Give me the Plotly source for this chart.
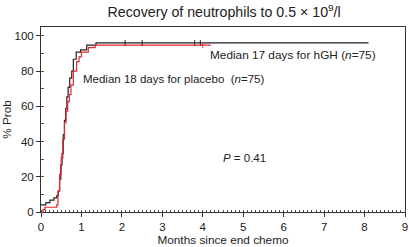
import plotly.graph_objects as go

# hGH (black) Kaplan-Meier steps: months, % recovered
hgh_t = [0, 0.12, 0.22, 0.32, 0.39, 0.43, 0.46, 0.49, 0.52, 0.55, 0.58, 0.61, 0.64, 0.67, 0.71, 0.76, 0.80, 0.87, 0.98, 1.13, 1.36, 8.1]
hgh_p = [4.0, 5.3, 6.7, 8.0, 9.3, 12.0, 18.7, 26.7, 33.3, 44.0, 52.0, 58.7, 65.3, 70.7, 76.0, 80.0, 86.7, 90.7, 92.0, 94.7, 96.0, 96.0]

# placebo (red)
pl_t = [0, 0.05, 0.10, 0.39, 0.42, 0.46, 0.50, 0.54, 0.58, 0.62, 0.66, 0.70, 0.74, 0.80, 0.88, 0.94, 1.00, 1.17, 1.34, 4.2]
pl_p = [0.0, 1.3, 2.7, 4.0, 12.0, 21.3, 30.7, 41.3, 50.7, 57.3, 62.7, 66.7, 72.0, 80.0, 85.3, 88.0, 90.7, 93.3, 94.7, 94.7]

# censoring marks
cens_hgh_t = [2.08, 2.5, 3.8, 3.94]
cens_hgh_p = [96.0, 96.0, 96.0, 96.0]
cens_pl_t = [4.0]
cens_pl_p = [94.7]

BLACK = "#222222"
RED = "#e8262b"

fig = go.Figure()
fig.add_trace(go.Scatter(x=hgh_t, y=hgh_p, mode="lines", line=dict(color=BLACK, width=1.2, shape="hv"), showlegend=False))
fig.add_trace(go.Scatter(x=pl_t, y=pl_p, mode="lines", line=dict(color=RED, width=1.2, shape="hv"), showlegend=False))
fig.add_trace(go.Scatter(x=cens_hgh_t, y=cens_hgh_p, mode="markers",
                         marker=dict(symbol="line-ns", size=4, line=dict(color=BLACK, width=1)), showlegend=False))
fig.add_trace(go.Scatter(x=cens_pl_t, y=cens_pl_p, mode="markers",
                         marker=dict(symbol="line-ns", size=4, line=dict(color=RED, width=1)), showlegend=False))

font = "Liberation Sans, Arial, sans-serif"
fig.update_layout(
    width=409, height=247,
    margin=dict(l=41, r=4, t=27, b=35),
    paper_bgcolor="white", plot_bgcolor="white",
    font=dict(family=font, size=11, color="#222"),
    title=dict(text="Recovery of neutrophils to 0.5 × 10<sup>9</sup>/l", x=0.548, xanchor="center",
               y=0.97, yanchor="top", font=dict(size=14.2, family=font, color="#222")),
    xaxis=dict(range=[0, 9], tickvals=list(range(10)), showgrid=False, zeroline=False,
               showline=True, linecolor="#333", linewidth=1, mirror=True,
               ticks="outside", ticklen=4, tickcolor="#333", automargin=False,
               minor=dict(dtick=0.1, ticks="inside", ticklen=2, tickcolor="#555"),
               title=dict(text="Months since end chemo", standoff=6, font=dict(size=11.8)),
               tickfont=dict(size=11.5)),
    yaxis=dict(range=[0, 105], tickvals=[0, 20, 40, 60, 80, 100], showgrid=False, zeroline=False,
               showline=True, linecolor="#333", linewidth=1, mirror=True,
               ticks="outside", ticklen=4, tickcolor="#333", automargin=False,
               minor=dict(dtick=10, ticks="inside", ticklen=3, tickcolor="#555"),
               title=dict(text="% Prob", standoff=7, font=dict(size=11.8)),
               tickfont=dict(size=11.5)),
)

fig.add_annotation(x=8.33, y=89, xref="x", yref="y", xanchor="right", yanchor="middle",
                   text="Median 17 days for hGH (<i>n</i>=75)", showarrow=False, font=dict(size=11.8, family=font))
fig.add_annotation(x=0.98, y=75.5, xref="x", yref="y", xanchor="left", yanchor="middle",
                   text="Median 18 days for placebo  (<i>n</i>=75)", showarrow=False, font=dict(size=11.5, family=font))
fig.add_annotation(x=4.45, y=30.5, xref="x", yref="y", xanchor="left", yanchor="middle",
                   text="<i>P</i> = 0.41", showarrow=False, font=dict(size=11.5, family=font))

fig.write_html("out.html", config={"displayModeBar": False},
               post_script="document.body.style.margin='0';document.body.style.overflow='hidden';")
